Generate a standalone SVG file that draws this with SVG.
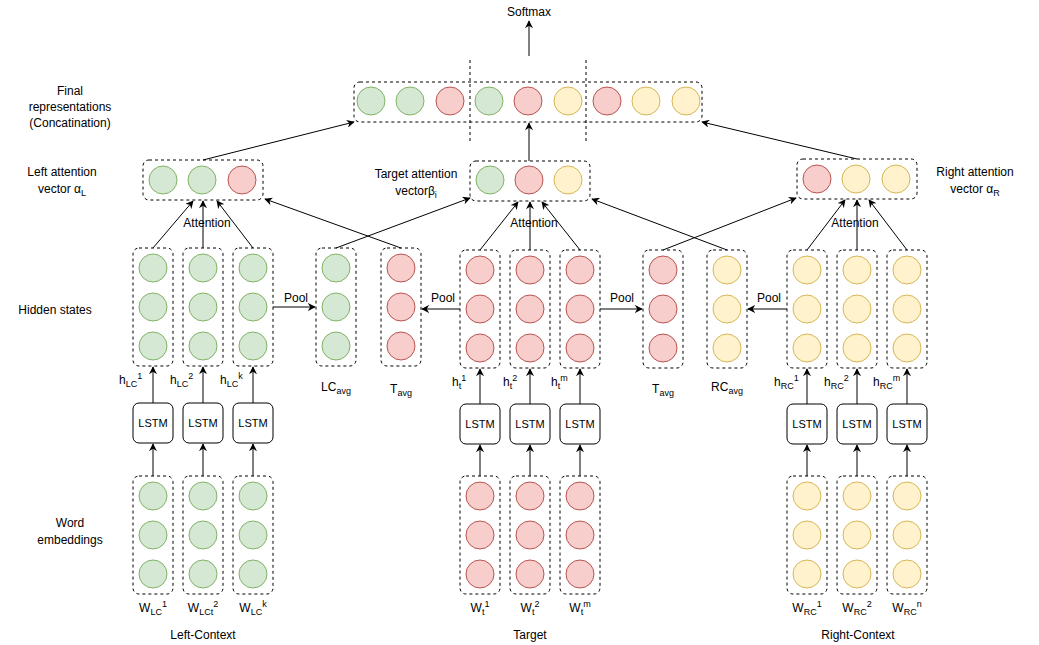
<svg xmlns="http://www.w3.org/2000/svg" xmlns:xlink="http://www.w3.org/1999/xlink" width="1039" height="645" viewBox="0 0 1039 645">
<style>
text{font-family:"Liberation Sans",Arial,sans-serif;font-size:12px;fill:#000}
.m{text-anchor:middle}
.box{fill:none;stroke:#000;stroke-dasharray:3 3;stroke-width:1}
.g{fill:#d5e8d4;stroke:#82b366}
.r{fill:#f8cecc;stroke:#b85450}
.y{fill:#fff2cc;stroke:#d6b656}
.lstm{fill:#fff;stroke:#000}
.c line{stroke:#000;stroke-width:1;marker-end:url(#a)}
.sub{font-size:9px}
</style>
<defs>
<marker id="a" viewBox="0 0 10 10" refX="9" refY="5" markerWidth="8" markerHeight="8" orient="auto" markerUnits="userSpaceOnUse"><path d="M0,0 L10,5 L0,10 L3,5 Z" fill="#000"/></marker>
<rect id="cb" x="-20" y="0" width="40" height="118" rx="6" class="box"/>
<g id="colG"><use xlink:href="#cb"/><circle cx="0" cy="20" r="14" class="g"/><circle cx="0" cy="59" r="14" class="g"/><circle cx="0" cy="98" r="14" class="g"/></g>
<g id="colR"><use xlink:href="#cb"/><circle cx="0" cy="20" r="14" class="r"/><circle cx="0" cy="59" r="14" class="r"/><circle cx="0" cy="98" r="14" class="r"/></g>
<g id="colY"><use xlink:href="#cb"/><circle cx="0" cy="20" r="14" class="y"/><circle cx="0" cy="59" r="14" class="y"/><circle cx="0" cy="98" r="14" class="y"/></g>
<g id="lstm"><rect x="-20" y="0" width="40" height="40" rx="6" class="lstm"/><text x="0" y="24" class="m" style="font-size:11px">LSTM</text></g>
</defs>
<rect width="1039" height="645" fill="#fff"/>

<g id="final">
<rect x="354" y="82" width="348" height="40" rx="6" class="box"/>
<circle cx="371" cy="101" r="14" class="g"/><circle cx="410" cy="101" r="14" class="g"/><circle cx="450" cy="101" r="14" class="r"/>
<circle cx="489" cy="101" r="14" class="g"/><circle cx="528" cy="101" r="14" class="r"/><circle cx="568" cy="101" r="14" class="y"/>
<circle cx="607" cy="101" r="14" class="r"/><circle cx="646" cy="101" r="14" class="y"/><circle cx="686" cy="101" r="14" class="y"/>
<line x1="470" y1="60" x2="470" y2="141" class="box"/><line x1="586" y1="60" x2="586" y2="141" class="box"/>
</g>
<g id="attL"><rect x="143" y="160" width="120" height="40" rx="6" class="box"/>
<circle cx="163" cy="180" r="14" class="g"/><circle cx="202" cy="180" r="14" class="g"/><circle cx="242" cy="180" r="14" class="r"/></g>
<g id="attT"><rect x="470" y="161" width="120" height="40" rx="6" class="box"/>
<circle cx="490" cy="180" r="14" class="g"/><circle cx="529" cy="180" r="14" class="r"/><circle cx="568" cy="180" r="14" class="y"/></g>
<g id="attR"><rect x="797" y="159" width="120" height="40" rx="6" class="box"/>
<circle cx="817" cy="179" r="14" class="r"/><circle cx="856" cy="179" r="14" class="y"/><circle cx="896" cy="179" r="14" class="y"/></g>

<g id="hidden">
<use xlink:href="#colG" x="153" y="248"/><use xlink:href="#colG" x="203" y="248"/><use xlink:href="#colG" x="253" y="248"/>
<use xlink:href="#colG" x="336" y="248"/><use xlink:href="#colR" x="401" y="248"/>
<use xlink:href="#colR" x="480" y="250"/><use xlink:href="#colR" x="530" y="250"/><use xlink:href="#colR" x="580" y="250"/>
<use xlink:href="#colR" x="663" y="250"/><use xlink:href="#colY" x="727" y="250"/>
<use xlink:href="#colY" x="807" y="250"/><use xlink:href="#colY" x="857" y="250"/><use xlink:href="#colY" x="907" y="250"/>
</g>
<g id="lstms">
<use xlink:href="#lstm" x="153" y="403"/><use xlink:href="#lstm" x="203" y="403"/><use xlink:href="#lstm" x="253" y="403"/>
<use xlink:href="#lstm" x="480" y="404"/><use xlink:href="#lstm" x="530" y="404"/><use xlink:href="#lstm" x="580" y="404"/>
<use xlink:href="#lstm" x="807" y="404"/><use xlink:href="#lstm" x="857" y="404"/><use xlink:href="#lstm" x="907" y="404"/>
</g>
<g id="embeddings">
<use xlink:href="#colG" x="153" y="476"/><use xlink:href="#colG" x="203" y="476"/><use xlink:href="#colG" x="253" y="476"/>
<use xlink:href="#colR" x="480" y="476"/><use xlink:href="#colR" x="530" y="476"/><use xlink:href="#colR" x="580" y="476"/>
<use xlink:href="#colY" x="807" y="476"/><use xlink:href="#colY" x="857" y="476"/><use xlink:href="#colY" x="907" y="476"/>
</g>

<g class="c" id="connectors">
<line x1="529" y1="56" x2="529" y2="21"/>
<line x1="529" y1="161" x2="529" y2="123"/>
<line x1="203" y1="160" x2="354" y2="122"/>
<line x1="857" y1="159" x2="702" y2="122"/>
<line x1="153" y1="248" x2="193" y2="201"/><line x1="203" y1="248" x2="203" y2="201"/><line x1="253" y1="248" x2="217" y2="201"/>
<line x1="480" y1="250" x2="518" y2="202"/><line x1="530" y1="250" x2="530" y2="202"/><line x1="580" y1="250" x2="542" y2="202"/>
<line x1="807" y1="250" x2="845" y2="200"/><line x1="857" y1="250" x2="857" y2="200"/><line x1="907" y1="250" x2="869" y2="200"/>
<line x1="336" y1="248" x2="470" y2="198"/><line x1="401" y1="248" x2="265" y2="199"/>
<line x1="663" y1="250" x2="796" y2="198"/><line x1="727" y1="250" x2="592" y2="199"/>
<line x1="273" y1="307" x2="315" y2="307"/><line x1="460" y1="309" x2="422" y2="309"/>
<line x1="600" y1="309" x2="642" y2="309"/><line x1="787" y1="309" x2="748" y2="309"/>
<line x1="153" y1="403" x2="153" y2="367"/><line x1="203" y1="403" x2="203" y2="367"/><line x1="253" y1="403" x2="253" y2="367"/>
<line x1="480" y1="404" x2="480" y2="369"/><line x1="530" y1="404" x2="530" y2="369"/><line x1="580" y1="404" x2="580" y2="369"/>
<line x1="807" y1="404" x2="807" y2="369"/><line x1="857" y1="404" x2="857" y2="369"/><line x1="907" y1="404" x2="907" y2="369"/>
<line x1="153" y1="476" x2="153" y2="444"/><line x1="203" y1="476" x2="203" y2="444"/><line x1="253" y1="476" x2="253" y2="444"/>
<line x1="480" y1="476" x2="480" y2="445"/><line x1="530" y1="476" x2="530" y2="445"/><line x1="580" y1="476" x2="580" y2="445"/>
<line x1="807" y1="476" x2="807" y2="445"/><line x1="857" y1="476" x2="857" y2="445"/><line x1="907" y1="476" x2="907" y2="445"/>
</g>

<g id="labels">
<text x="529" y="16" class="m">Softmax</text>
<text x="70" y="95" class="m">Final</text><text x="70" y="111" class="m">representations</text><text x="70" y="127" class="m">(Concatination)</text>
<text x="62" y="176" class="m">Left attention</text><text x="62" y="193" class="m">vector α<tspan class="sub" dy="3">L</tspan></text>
<text x="416" y="178" class="m">Target attention</text><text x="416" y="195" class="m">vectorβ<tspan class="sub" dy="3">i</tspan></text>
<text x="975" y="176" class="m">Right attention</text><text x="975" y="193" class="m">vector α<tspan class="sub" dy="3">R</tspan></text>
<text x="55" y="314" class="m">Hidden states</text>
<text x="70" y="527" class="m">Word</text><text x="70" y="544" class="m">embeddings</text>
<text x="207" y="227" class="m">Attention</text><text x="534" y="227" class="m">Attention</text><text x="855" y="227" class="m">Attention</text>
<text x="296" y="302" class="m">Pool</text><text x="443" y="302" class="m">Pool</text><text x="622" y="302" class="m">Pool</text><text x="769" y="302" class="m">Pool</text>
<text x="119" y="384">h<tspan class="sub" dy="3">LC</tspan><tspan class="sub" dy="-8">1</tspan></text>
<text x="170" y="384">h<tspan class="sub" dy="3">LC</tspan><tspan class="sub" dy="-8">2</tspan></text>
<text x="220" y="384">h<tspan class="sub" dy="3">LC</tspan><tspan class="sub" dy="-8">k</tspan></text>
<text x="452" y="386">h<tspan class="sub" dy="3">t</tspan><tspan class="sub" dy="-8">1</tspan></text>
<text x="503" y="386">h<tspan class="sub" dy="3">t</tspan><tspan class="sub" dy="-8">2</tspan></text>
<text x="551" y="386">h<tspan class="sub" dy="3">t</tspan><tspan class="sub" dy="-8">m</tspan></text>
<text x="774" y="386">h<tspan class="sub" dy="3">RC</tspan><tspan class="sub" dy="-8">1</tspan></text>
<text x="824" y="386">h<tspan class="sub" dy="3">RC</tspan><tspan class="sub" dy="-8">2</tspan></text>
<text x="873" y="386">h<tspan class="sub" dy="3">RC</tspan><tspan class="sub" dy="-8">m</tspan></text>
<text x="336" y="391" class="m">LC<tspan class="sub" dy="3">avg</tspan></text>
<text x="401" y="393" class="m">T<tspan class="sub" dy="3">avg</tspan></text>
<text x="663" y="393" class="m">T<tspan class="sub" dy="3">avg</tspan></text>
<text x="727" y="391" class="m">RC<tspan class="sub" dy="3">avg</tspan></text>
<text x="153" y="612" class="m">W<tspan class="sub" dy="3">LC</tspan><tspan class="sub" dy="-8">1</tspan></text>
<text x="203" y="612" class="m">W<tspan class="sub" dy="3">LCt</tspan><tspan class="sub" dy="-8">2</tspan></text>
<text x="253" y="612" class="m">W<tspan class="sub" dy="3">LC</tspan><tspan class="sub" dy="-8">k</tspan></text>
<text x="480" y="612" class="m">W<tspan class="sub" dy="3">t</tspan><tspan class="sub" dy="-8">1</tspan></text>
<text x="530" y="612" class="m">W<tspan class="sub" dy="3">t</tspan><tspan class="sub" dy="-8">2</tspan></text>
<text x="580" y="612" class="m">W<tspan class="sub" dy="3">t</tspan><tspan class="sub" dy="-8">m</tspan></text>
<text x="807" y="612" class="m">W<tspan class="sub" dy="3">RC</tspan><tspan class="sub" dy="-8">1</tspan></text>
<text x="857" y="612" class="m">W<tspan class="sub" dy="3">RC</tspan><tspan class="sub" dy="-8">2</tspan></text>
<text x="907" y="612" class="m">W<tspan class="sub" dy="3">RC</tspan><tspan class="sub" dy="-8">n</tspan></text>
<text x="203" y="639" class="m">Left-Context</text>
<text x="530" y="639" class="m">Target</text>
<text x="858" y="639" class="m">Right-Context</text>
</g>
</svg>
